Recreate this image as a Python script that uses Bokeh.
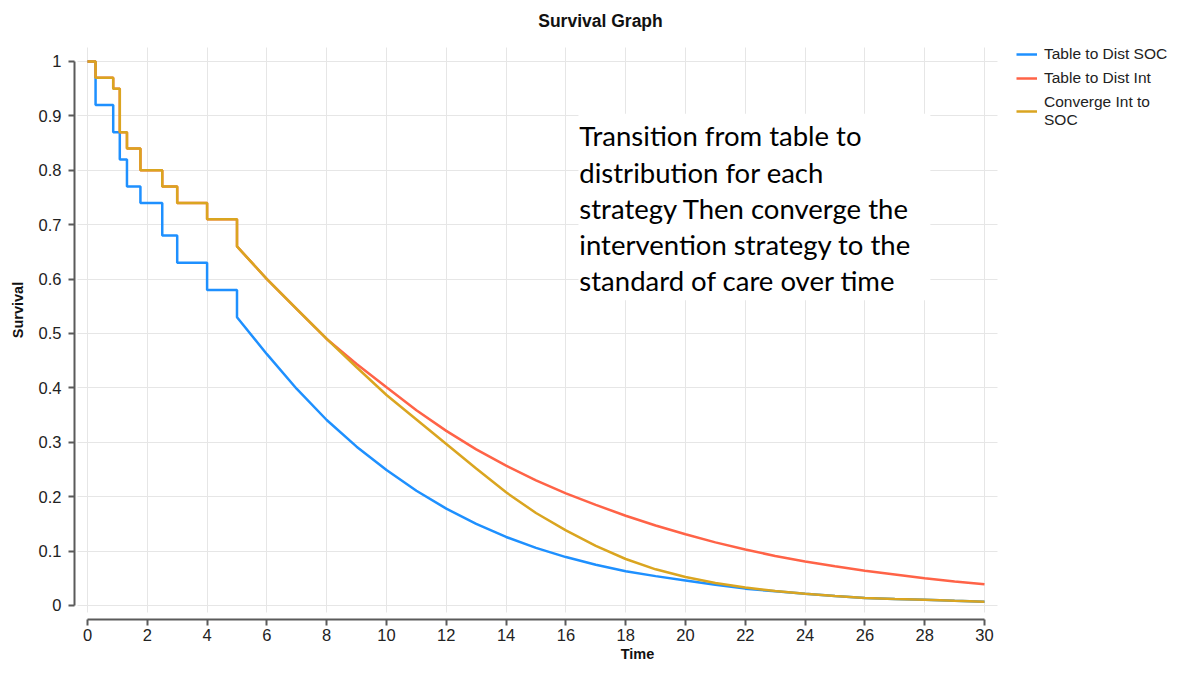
from bokeh.plotting import figure
from bokeh.models import (Legend, LegendItem, Label, BoxAnnotation, FixedTicker, Range1d, Grid)
from bokeh.embed import file_html
from bokeh.resources import INLINE

# ---------------- data ----------------
step_times = [0, 0.27, 0.86, 1.08, 1.32, 1.77, 2.5, 3.0, 4.0, 5.0]
soc_steps = [1.0, 0.92, 0.87, 0.82, 0.77, 0.74, 0.68, 0.63, 0.58]
int_steps = [1.0, 0.97, 0.95, 0.87, 0.84, 0.80, 0.77, 0.74, 0.71]

curve_times = [5, 6, 7, 8, 9, 10, 11, 12, 13, 14, 15, 16, 17, 18, 19, 20,
               21, 22, 23, 24, 25, 26, 27, 28, 29, 30]
soc_curve = [0.53, 0.462, 0.398, 0.341, 0.292, 0.249, 0.211, 0.178, 0.150, 0.126,
             0.106, 0.089, 0.075, 0.063, 0.054, 0.046, 0.038, 0.031, 0.026,
             0.0215, 0.0175, 0.014, 0.012, 0.0105, 0.0085, 0.0068]
int_curve = [0.66, 0.60, 0.545, 0.49, 0.444, 0.401, 0.359, 0.321, 0.287, 0.257,
             0.230, 0.206, 0.185, 0.165, 0.147, 0.131, 0.116, 0.103, 0.091,
             0.081, 0.072, 0.064, 0.057, 0.050, 0.044, 0.039]
conv_curve = [0.66, 0.60, 0.545, 0.49, 0.438, 0.387, 0.342, 0.297, 0.252, 0.208,
              0.170, 0.138, 0.1095, 0.0855, 0.0665, 0.0525, 0.0415, 0.033, 0.0265,
              0.0215, 0.0175, 0.014, 0.012, 0.0105, 0.0085, 0.0068]

series_names = ["Table to Dist SOC", "Table to Dist Int", "Converge Int to\nSOC"]
series_colors = ["#1E90FF", "#FF6347", "#DAA520"]

x_ticks = list(range(0, 31, 2))
y_ticks = [0, 0.1, 0.2, 0.3, 0.4, 0.5, 0.6, 0.7, 0.8, 0.9, 1]
y_tick_labels = ["0", "0.1", "0.2", "0.3", "0.4", "0.5", "0.6", "0.7", "0.8", "0.9", "1"]

title_text = "Survival Graph"
x_label = "Time"
y_label = "Survival"
note_lines = ["Transition from table to",
              "distribution for each",
              "strategy Then converge the",
              "intervention strategy to the",
              "standard of care over time"]


def build(steps, curve):
    xs, ys = [], []
    for i, v in enumerate(steps):
        xs += [step_times[i], step_times[i + 1]]
        ys += [v, v]
    xs += curve_times
    ys += curve
    return xs, ys


# ---------------- figure ----------------
# The frame spans to the top/right canvas edges so that the title and legend
# (drawn as in-frame annotations) are not clipped; grids/axes are bounded.
FONT = "Liberation Sans"
p = figure(width=1200, height=675, output_backend="svg", toolbar_location=None,
           title=None,
           x_range=Range1d(-0.4348, 37.224), y_range=Range1d(-0.02574, 1.11213),
           min_border_left=74, min_border_right=0, min_border_top=0,
           min_border_bottom=56)
p.outline_line_color = None
p.background_fill_color = "white"

for ax in (p.xaxis[0], p.yaxis[0]):
    ax.axis_line_color = "#5a5a5a"
    ax.axis_line_width = 2
    ax.major_tick_line_color = "#5a5a5a"
    ax.major_tick_line_width = 2
    ax.major_tick_out = 6
    ax.major_tick_in = 0
    ax.minor_tick_line_color = None
    ax.major_label_text_font = FONT
    ax.major_label_text_font_size = "16.5px"
    ax.major_label_text_color = "#222222"
    ax.axis_label_text_font = FONT
    ax.axis_label_text_font_style = "bold"
    ax.axis_label_text_font_size = "14.5px"
    ax.axis_label_text_color = "#111111"

p.xaxis[0].ticker = FixedTicker(ticks=x_ticks)
p.yaxis[0].ticker = FixedTicker(ticks=y_ticks)
p.yaxis[0].major_label_overrides = {v: s for v, s in zip(y_ticks, y_tick_labels)}
p.xaxis[0].bounds = (0, 30)
p.yaxis[0].bounds = (0, 1)
p.xaxis[0].axis_label = x_label
p.yaxis[0].axis_label = y_label
p.xaxis[0].major_label_standoff = 3
p.xaxis[0].axis_label_standoff = 2
p.yaxis[0].major_label_standoff = 7
p.yaxis[0].axis_label_standoff = 10

p.xgrid[0].ticker = FixedTicker(ticks=x_ticks)
p.ygrid[0].ticker = FixedTicker(ticks=y_ticks)
p.xgrid[0].bounds = (0, 30)
p.ygrid[0].bounds = (0, 1)
has_cross = "cross_bounds" in Grid.properties()
if has_cross:
    p.xgrid[0].cross_bounds = (-0.0129, 1.0257)
    p.ygrid[0].cross_bounds = (-0.334, 30.435)
for g in (p.xgrid[0], p.ygrid[0]):
    g.grid_line_color = "#e6e6e6"
    g.grid_line_width = 1

renderers = []
for steps, curve, color in [(soc_steps, soc_curve, series_colors[0]),
                            (int_steps, int_curve, series_colors[1]),
                            (int_steps, conv_curve, series_colors[2])]:
    xs, ys = build(steps, curve)
    r = p.line(xs, ys, line_color=color, line_width=2.5)
    renderers.append(r)

legend = Legend(items=[LegendItem(label=n, renderers=[r]) for n, r in zip(series_names, renderers)],
                location=(942, 490))
legend.label_text_font = FONT
legend.label_text_font_size = "15.5px"
legend.label_text_color = "#222222"
legend.label_text_line_height = 1.0
legend.glyph_width = 21
legend.glyph_height = 18
legend.label_height = 18
legend.label_standoff = 7
legend.spacing = 6
legend.padding = 0
legend.margin = 0
legend.border_line_color = None
legend.background_fill_alpha = 0
p.add_layout(legend)

# annotation box + text
p.add_layout(BoxAnnotation(left=16.42, right=28.19, bottom=0.561, top=0.904,
                           fill_color="white", fill_alpha=1.0, line_color=None))
first_base = 0.8634
gap = 0.06654
for i, line in enumerate(note_lines):
    p.add_layout(Label(x=16.45, y=first_base - i * gap, text=line,
                       text_font="Lato", text_font_size="27.5px",
                       text_color="black", text_baseline="alphabetic",
                       text_align="left"))

# title
p.add_layout(Label(x=17.157, y=1.07353, text=title_text, text_font=FONT,
                   text_font_style="bold", text_font_size="17.5px",
                   text_color="#111111", text_align="center", text_baseline="middle"))

open("out.html", "w").write(file_html(p, INLINE))
